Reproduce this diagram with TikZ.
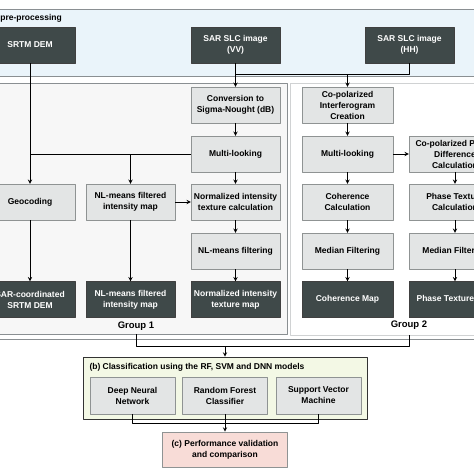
\documentclass[tikz,border=0pt]{standalone}
\usepackage{fontspec}
\setmainfont{Liberation Sans}
\definecolor{panelblue}{HTML}{EAF4FA}
\definecolor{framegray}{HTML}{8A8F92}
\definecolor{groupfill}{HTML}{F7F7F7}
\definecolor{darkbox}{HTML}{3F4949}
\definecolor{lightbox}{HTML}{E3E5E5}
\definecolor{boxline}{HTML}{8F9393}
\definecolor{clsfill}{HTML}{F3F8E5}
\definecolor{perffill}{HTML}{F8DCD7}
\begin{document}
\begin{tikzpicture}[x=1pt,y=-1pt,>=stealth,line join=round,
	every node/.style={font=\fontsize{8.5}{11}\selectfont\bfseries,align=center},
	dbox/.style={draw=black!75,fill=darkbox,text=white,minimum width=89pt,minimum height=36pt,inner sep=1pt},
	lbox/.style={draw=boxline,fill=lightbox,minimum width=89pt,minimum height=36pt,inner sep=1pt},
	frame/.style={draw=framegray,line width=0.8pt},
	link/.style={line width=0.9pt}]
		\useasboundingbox (0,0) rectangle (474,474);
		\clip (0,0) rectangle (474,474);
		% (a) pre-processing and the two groups
		\fill[white] (0,0) rectangle (474,474);
		\fill[panelblue] (-20,9) rectangle (490,76);
		\draw[frame] (-20,9) rectangle (490,339);
		\draw[frame] (-20,76) -- (490,76);
		\draw[frame,fill=groupfill] (-20,83) rectangle (287,334);
		\draw[frame,draw=framegray!40,fill=white] (290,83) rectangle (490,335);
		\node[anchor=base west,inner sep=0pt] (pre) at (-12.5,20) {(a) pre-processing};
		\node[dbox,minimum width=90pt] (srtm) at (30,45) {SRTM DEM};
		\node[dbox] (vv) at (235.5,45) {SAR SLC image\\(VV)};
		\node[dbox] (hh) at (409.5,45) {SAR SLC image\\(HH)};
		% group 1
		\node[lbox] (conv) at (235.5,105) {Conversion to\\Sigma-Nought (dB)};
		\node[lbox] (ml1) at (235.5,154) {Multi-looking};
		\node[lbox] (ncalc) at (235.5,202) {Normalized intensity\\texture calculation};
		\node[lbox] (nlf) at (235.5,251) {NL-means filtering};
		\node[dbox] (nmap) at (235.5,299.5) {Normalized intensity\\texture map};
		\node[lbox,minimum width=90pt] (geo) at (30,202) {Geocoding};
		\node[lbox] (nlm) at (130.5,202) {NL-means filtered\\intensity map};
		\node[dbox,minimum width=90pt] (sardem) at (30,299.5) {SAR-coordinated\\SRTM DEM};
		\node[dbox] (nlmd) at (130.5,299.5) {NL-means filtered\\intensity map};
		\node[font=\fontsize{9.5}{11}\selectfont\bfseries] (g1) at (136,326) {Group 1};
		% group 2
		\node[lbox,minimum width=91pt] (cint) at (347.5,105) {Co-polarized\\Interferogram\\Creation};
		\node[lbox,minimum width=91pt] (ml2) at (347.5,154) {Multi-looking};
		\node[lbox,minimum width=91pt] (coh) at (347.5,202) {Coherence\\Calculation};
		\node[lbox,minimum width=91pt] (med2) at (347.5,251) {Median Filtering};
		\node[dbox,minimum width=91pt] (cmap) at (347.5,299.5) {Coherence Map};
		\node[lbox,minimum width=92pt] (pdiff) at (455,154) {Co-polarized Phase\\Difference\\Calculation};
		\node[lbox,minimum width=92pt] (ptex) at (455,202) {Phase Texture\\Calculation};
		\node[lbox,minimum width=92pt] (med3) at (455,251) {Median Filtering};
		\node[dbox,minimum width=92pt] (pmap) at (455,299.5) {Phase Texture Map};
		\node[font=\fontsize{9.5}{11}\selectfont\bfseries] (g2) at (409,325) {Group 2};
		% (b) classification
		\node[draw=black!80,fill=clsfill,line width=0.8pt,minimum width=284pt,minimum height=62pt] (cls) at (225,388) {};
		\node[anchor=west,font=\fontsize{8.5}{10}\selectfont\bfseries] (clst) at (86,367) {(b) Classification using the RF, SVM and DNN models};
		\node[lbox,minimum width=85pt,minimum height=37pt] (dnn) at (132.5,395.5) {Deep Neural\\Network};
		\node[lbox,minimum width=85pt,minimum height=37pt] (rf) at (225,395.5) {Random Forest\\Classifier};
		\node[lbox,minimum width=85pt,minimum height=37pt] (svm) at (318.5,395.5) {Support Vector\\Machine};
		% (c)
		\node[draw=boxline,fill=perffill,line width=0.8pt,minimum width=125pt,minimum height=35pt] (perf) at (225,449.5) {(c) Performance validation\\and comparison};
		% links
		\coordinate (tb) at (409.5,74);
		\draw[link] (hh) -- (tb) -- (tb -| vv);
		\draw[link,->] (vv) -- (conv);
		\draw[link,->] (tb -| cint) -- (cint);
		\draw[link,->] (srtm) -- (geo);
		\draw[link,->] (geo) -- (sardem);
		\draw[link] (ml1) -- (ml1 -| srtm);
		\draw[link,->] (ml1 -| nlm) -- (nlm);
		\draw[link,->] (nlm) -- (nlmd);
		\draw[link,->] (nlm) -- (ncalc);
		\draw[link,->] (ml2) -- (pdiff);
		\foreach \a/\b in {conv/ml1,ml1/ncalc,ncalc/nlf,nlf/nmap,cint/ml2,ml2/coh,coh/med2,med2/cmap,pdiff/ptex,ptex/med3,med3/pmap}
			\draw[link,->] (\a) -- (\b);
		\coordinate (g1b) at (136,334);
		\coordinate (g2b) at (409,335);
		\coordinate (gj) at (225,346);
		\draw[link] (g1b) -- (g1b |- gj) -- (g2b |- gj) -- (g2b);
		\draw[link,->] (gj) -- (cls.north);
		\coordinate (cj) at (225,423);
		\draw[link] (dnn) -- (dnn |- cj) -- (svm |- cj) -- (svm);
		\draw[link,->] (rf) -- (perf);
\end{tikzpicture}
\end{document}
